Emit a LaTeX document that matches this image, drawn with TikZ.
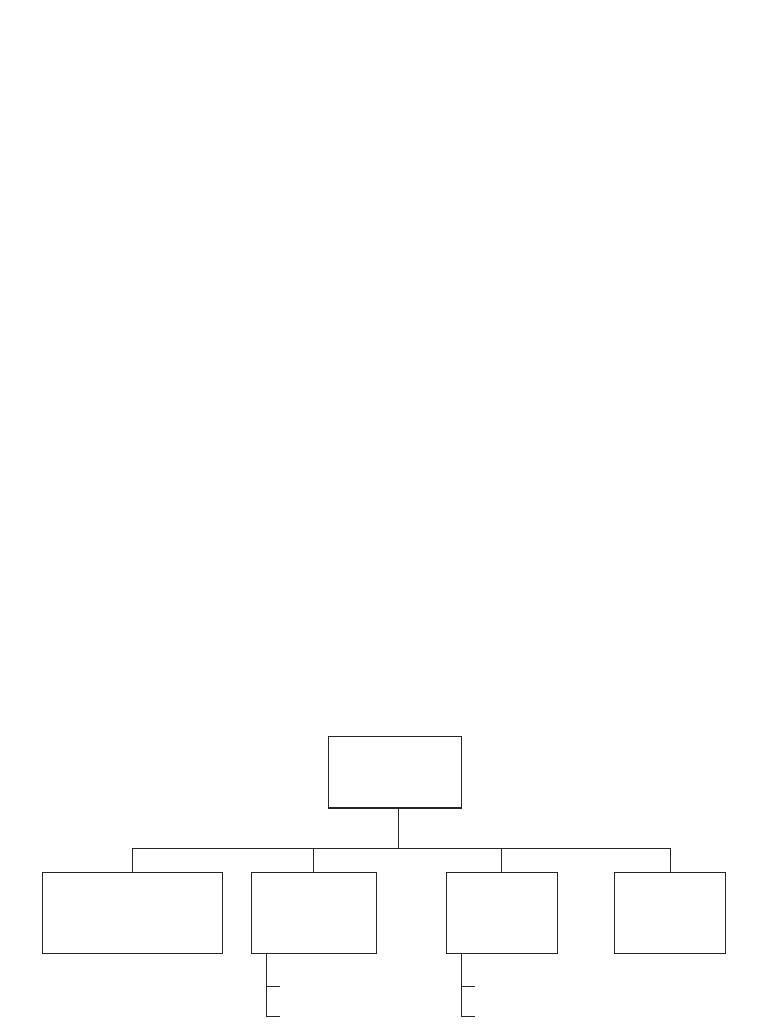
\documentclass[tikz,border=0pt]{standalone}
\begin{document}
\begin{tikzpicture}[x=1pt,y=-1pt,
  box/.style={draw=black!85,line width=0.9pt,minimum width=0pt,inner sep=0pt},
  conn/.style={draw=black!85,line width=0.9pt}]
\useasboundingbox[fill=white] (0,0) rectangle (768,1024);
\node[box,minimum width=133pt,minimum height=72pt] (top) at (394.5,772) {};
\draw[line width=2pt,black!85] (top.south west) -- (top.south east);
\node[box,minimum width=180pt,minimum height=81pt] (b1) at (132,912.5) {};
\node[box,minimum width=125pt,minimum height=81pt] (b2) at (313.5,912.5) {};
\node[box,minimum width=111pt,minimum height=81pt] (b3) at (501.5,912.5) {};
\node[box,minimum width=111pt,minimum height=81pt] (b4) at (670,912.5) {};
\coordinate (hub) at (398,848);
\draw[conn] (top.south -| hub) -- (hub);
\draw[conn] (b1.north |- hub) -- (b4.north |- hub);
\foreach \b in {b1,b2,b3,b4} \draw[conn] (\b.north |- hub) -- (\b.north);
\coordinate (s2) at (266,953);
\coordinate (s2a) at (280,986);
\coordinate (s2b) at (280,1016);
\draw[conn] (s2) -- (s2 |- s2b) -- (s2b);
\draw[conn] (s2 |- s2a) -- (s2a);
\coordinate (s3) at (461,953);
\coordinate (s3a) at (475,986);
\coordinate (s3b) at (475,1016);
\draw[conn] (s3) -- (s3 |- s3b) -- (s3b);
\draw[conn] (s3 |- s3a) -- (s3a);
\end{tikzpicture}
\end{document}
